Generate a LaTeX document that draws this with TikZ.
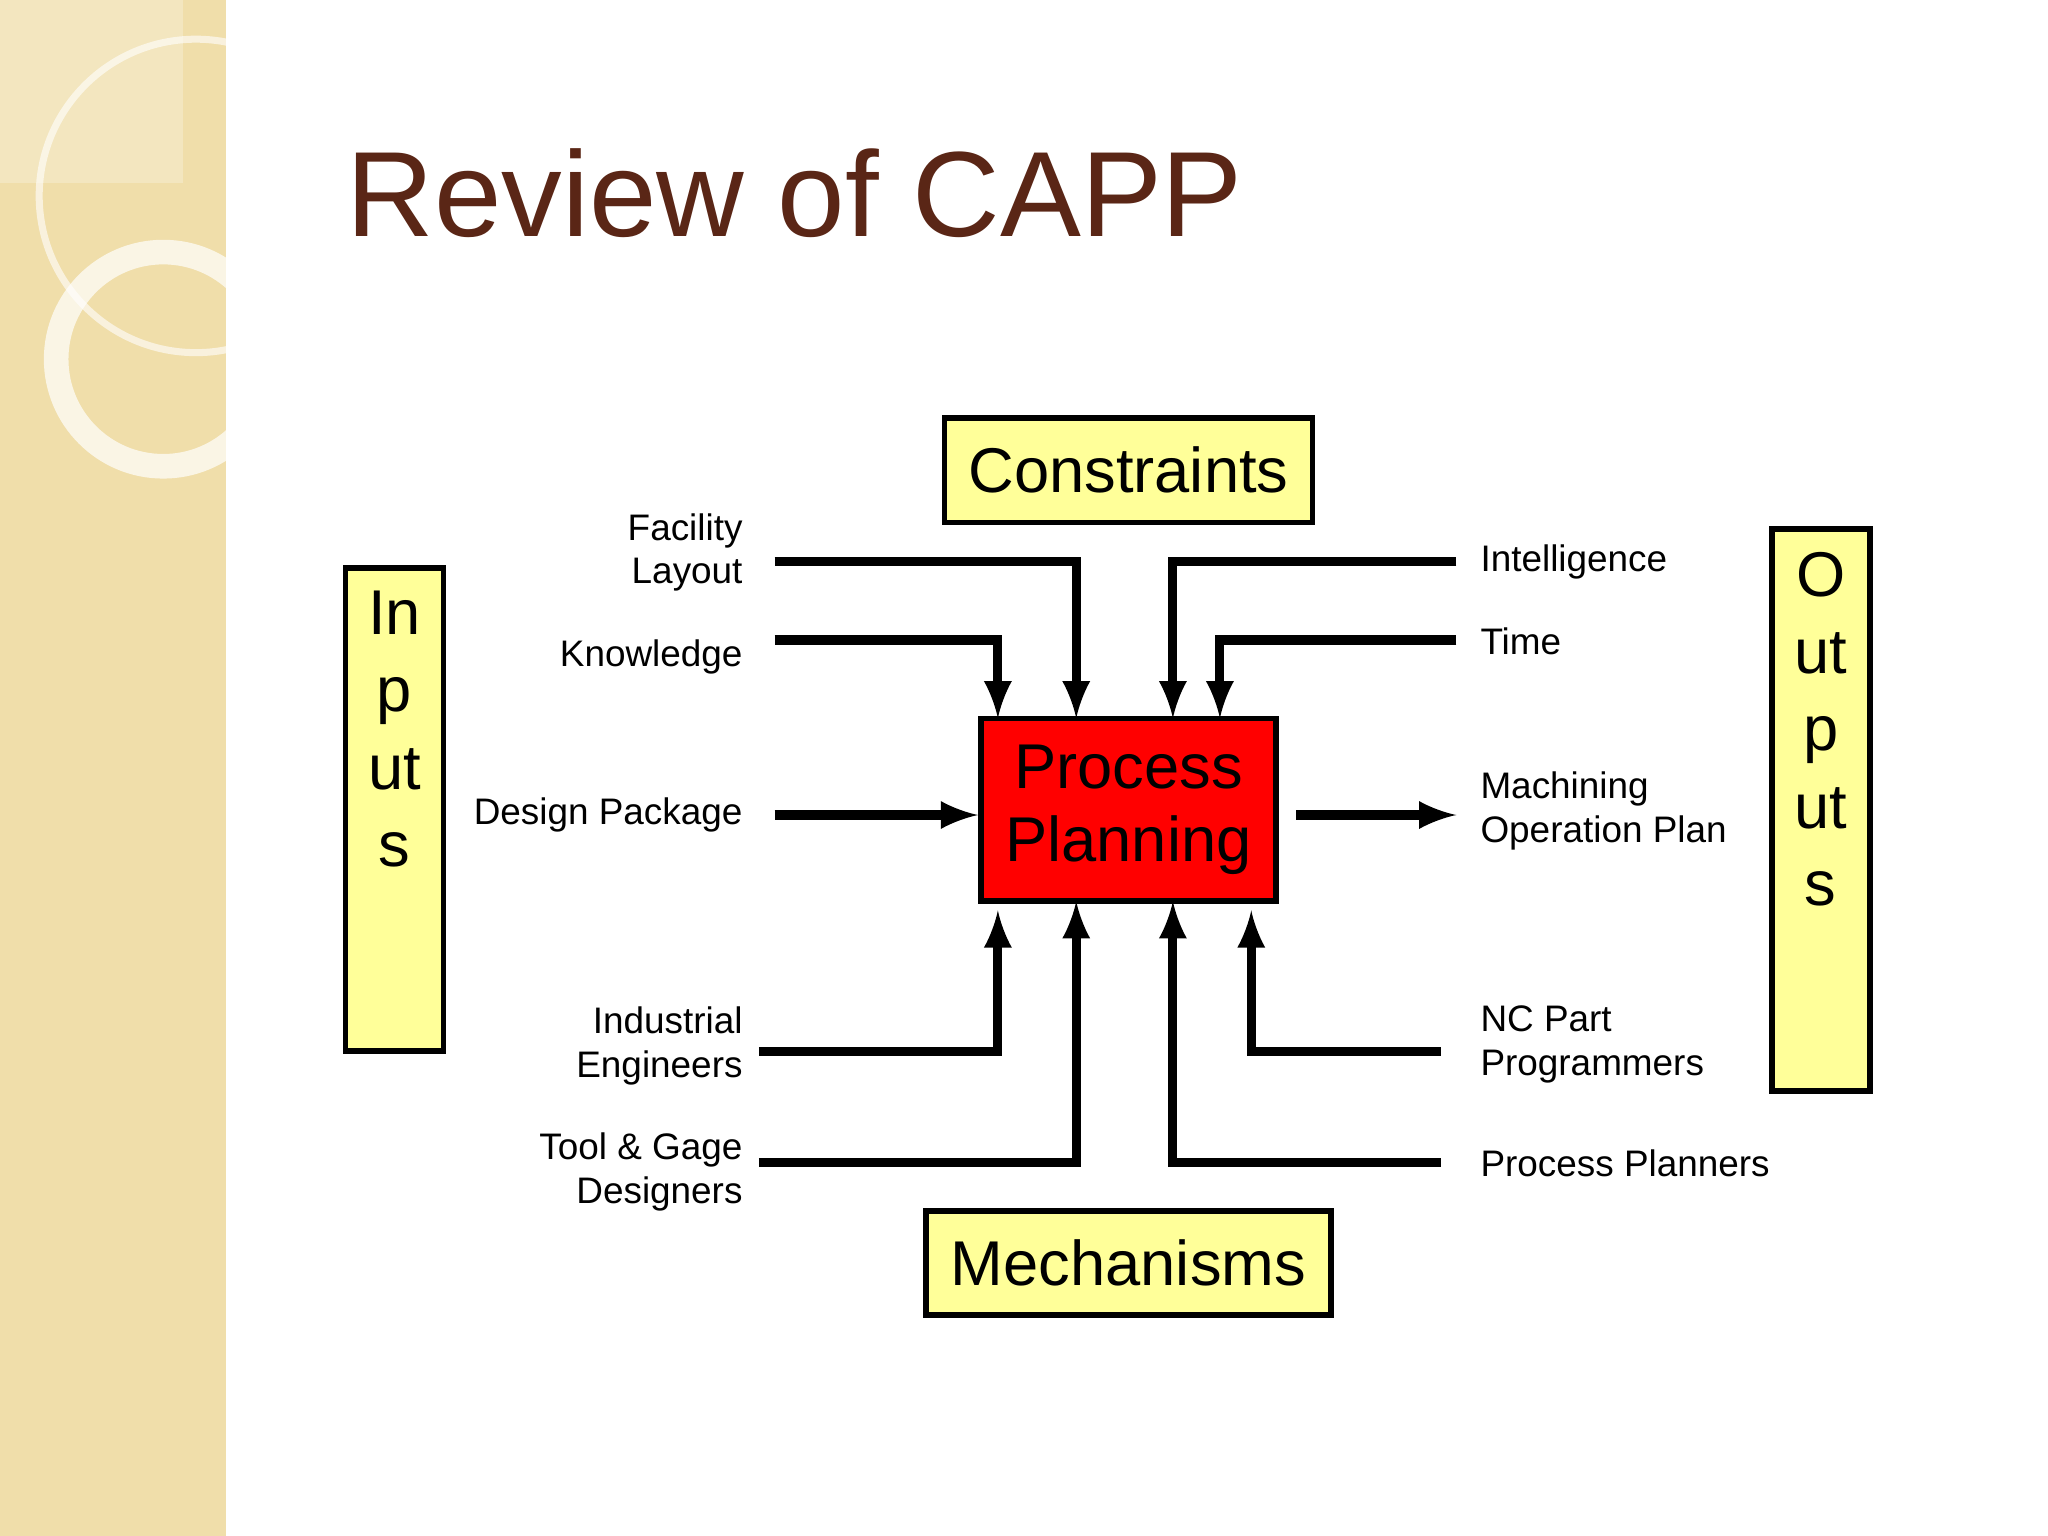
\documentclass[tikz,border=0pt]{standalone}
\usepackage{fontspec}
\setmainfont{Liberation Sans}
\usetikzlibrary{arrows}
\definecolor{beige}{RGB}{240,222,170}
\definecolor{titlebrown}{RGB}{90,38,22}
\definecolor{boxyellow}{RGB}{255,255,153}
\tikzset{
  box/.style={draw=black,line width=1.6pt,fill=boxyellow,inner sep=0pt},
  flow/.style={line width=2.6pt,-latex},
  lab/.style={font=\fontsize{10.5}{12.5}\selectfont,align=right,anchor=east},
  labr/.style={font=\fontsize{10.5}{12.5}\selectfont,align=left,anchor=west},
  big/.style={font=\fontsize{18}{22}\selectfont,align=center}
}
\begin{document}
\begin{tikzpicture}[x=0.01306cm,y=-0.01306cm]
\useasboundingbox (0,0) rectangle (1568,1176);
\fill [white] (0,0) rectangle (1568,1176);
\fill [beige] (0,0) rectangle (173,1176);
\begin{scope}
\clip (0,0) rectangle (173,1176);
\fill [white,opacity=0.25] (0,0) rectangle (140,140);
\draw [white,opacity=0.6,line width=2pt] (150,150) circle (120);
\draw [white,opacity=0.7,line width=7pt] (125,275) circle (82);
\end{scope}
\node [anchor=west,text=titlebrown,font=\fontsize{34.5}{38}\selectfont] (title) at (256,148) {Review of CAPP};

% boxes
\node [box,big,minimum width=3.683cm,minimum height=1.045cm] (con) at (864,360) {Constraints};
\node [box,big,fill=red,minimum width=2.952cm,minimum height=1.828cm] (pp) at (864,620) {Process\\[-1pt]Planning};
\node [box,big,minimum width=4.049cm,minimum height=1.045cm] (mech) at (864,967) {Mechanisms};
\node [box,minimum width=0.98cm,minimum height=4.83cm] (in) at (302,620) {};
\node [big,anchor=north,inner sep=0pt] (intext) at (302,452) {In\\p\\ut\\s};
\node [box,minimum width=0.98cm,minimum height=5.62cm] (out) at (1394,620) {};
\node [big,anchor=north,inner sep=0pt] (outtext) at (1394,422) {O\\ut\\p\\ut\\s};

% labels
\node [lab] (fac) at (578,423) {Facility\\Layout};
\node [lab] (kno) at (578,503) {Knowledge};
\node [lab] (des) at (578,624) {Design Package};
\node [lab] (ind) at (578,801) {Industrial\\Engineers};
\node [lab] (tool) at (578,897) {Tool \& Gage\\Designers};
\node [labr] (int) at (1124,430) {Intelligence};
\node [labr] (tim) at (1124,491) {Time};
\node [labr] (mac) at (1124,621) {Machining\\Operation Plan};
\node [labr] (nc) at (1124,800) {NC Part\\Programmers};
\node [labr] (ppl) at (1124,891) {Process Planners};

% connector ends
\coordinate (fac0) at (593,430); \coordinate (fac1) at (824,550);
\coordinate (kno0) at (593,490); \coordinate (kno1) at (764,550);
\coordinate (int0) at (1115,430); \coordinate (int1) at (898,550);
\coordinate (tim0) at (1115,490); \coordinate (tim1) at (934,550);
\coordinate (des0) at (593,624);
\coordinate (mac1) at (1115,624);
\coordinate (ind0) at (581,805); \coordinate (ind1) at (764,697);
\coordinate (tool0) at (581,890); \coordinate (tool1) at (824,690);
\coordinate (ppl0) at (1103,890); \coordinate (ppl1) at (898,690);
\coordinate (nc0) at (1103,805); \coordinate (nc1) at (958,697);

\draw [flow] (fac0) -| (fac1);
\draw [flow] (kno0) -| (kno1);
\draw [flow] (int0) -| (int1);
\draw [flow] (tim0) -| (tim1);
\draw [flow] (des0) -- (des0 -| pp.west);
\draw [flow] ([xshift=5]mac1 -| pp.east) -- (mac1);
\draw [flow] (ind0) -| (ind1);
\draw [flow] (tool0) -| (tool1);
\draw [flow] (ppl0) -| (ppl1);
\draw [flow] (nc0) -| (nc1);
\end{tikzpicture}
\end{document}
